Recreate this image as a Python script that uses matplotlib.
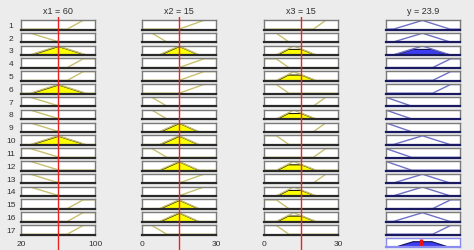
import numpy as np
import matplotlib
matplotlib.use("Agg")
from matplotlib import pyplot as plt
from matplotlib import transforms

# input / output values shown in the rule viewer
x1_val = 60
x2_val = 15
x3_val = 15
y_val = 23.9

# variable ranges
x1_range = [20, 100]
x2_range = [0, 30]
x3_range = [0, 30]
y_range = [0, 50]

# membership functions as trapezoids [a, b, c, d]  (low, medium, high)
x1_mfs = [[20, 20, 30, 61], [30, 60, 60, 90], [70, 87, 100, 100]]
x2_mfs = [[0, 0, 4, 10], [7, 15, 15, 23], [15, 25, 30, 30]]
x3_mfs = [[0, 0, 5, 10], [5, 12, 12, 21], [20, 25, 30, 30]]
y_mfs = [[0, 0, 0, 17], [5, 24.5, 24.5, 43], [31.5, 43.5, 50, 50]]

# rule base: 1 = low, 2 = medium, 3 = high
rule_x1 = [3, 1, 2, 3, 3, 2, 1, 1, 1, 2, 1, 1, 1, 1, 3, 3, 3]
rule_x2 = [3, 1, 2, 3, 3, 3, 1, 1, 2, 2, 1, 2, 3, 3, 2, 2, 1]
rule_x3 = [3, 1, 2, 1, 2, 1, 3, 2, 3, 1, 3, 2, 3, 2, 1, 2, 1]
rule_y = [2, 2, 2, 3, 3, 3, 1, 1, 1, 2, 1, 1, 2, 2, 3, 2, 3]

W, H = 474, 251
BG = '#ececec'


def trapmf(x, p):
    a, b, c, d = p
    x = np.asarray(x, dtype=float)
    left = np.where(x >= b, 1.0, (x - a) / (b - a) if b > a else 1.0)
    right = np.where(x <= c, 1.0, (d - x) / (d - c) if d > c else 1.0)
    return np.clip(np.minimum(left, right), 0, 1)


def px_axes(fig, left, top, width, height):
    # position in pixels (from top-left) -> figure fraction
    return fig.add_axes([left / W, 1 - (top + height) / H, width / W, height / H])


def style_box(ax, rng, edge='#7a7a7a', bottom='#2a2a2a'):
    ax.set_xlim(rng)
    ax.set_ylim(-0.04, 1.04)
    ax.set_xticks([])
    ax.set_yticks([])
    ax.set_facecolor('white')
    for s in ['top', 'left', 'right']:
        ax.spines[s].set_color(edge)
        ax.spines[s].set_linewidth(1.0)
    ax.spines['bottom'].set_color(bottom)
    ax.spines['bottom'].set_linewidth(1.6)


fig = plt.figure(figsize=(W / 100, H / 100), dpi=100)
fig.patch.set_facecolor(BG)

col_left = [21, 142, 264, 386]
col_w = 74
row_top0 = 21
row_pitch = 12.82
row_h = 9.5

inputs = [(x1_val, x1_range, x1_mfs, rule_x1, 'x1'),
          (x2_val, x2_range, x2_mfs, rule_x2, 'x2'),
          (x3_val, x3_range, x3_mfs, rule_x3, 'x3')]

n_rules = len(rule_y)
strength = np.ones(n_rules)
for val, rng, mfs, rule, name in inputs:
    mu = np.array([float(trapmf(val, mfs[k - 1])) for k in rule])
    strength = np.minimum(strength, mu)

txt_col = '#303030'

# input columns
for c, (val, rng, mfs, rule, name) in enumerate(inputs):
    xs = np.linspace(rng[0], rng[1], 600)
    mu_in = trapmf(val, [0, 0, 0, 0])  # placeholder, overwritten per rule
    for i, k in enumerate(rule):
        ax = px_axes(fig, col_left[c], row_top0 + i * row_pitch, col_w, row_h)
        style_box(ax, rng)
        mf = trapmf(xs, mfs[k - 1])
        level = float(trapmf(val, mfs[k - 1]))
        ax.plot(xs, mf, color='#c8c070', lw=1.0)
        if level > 0:
            ax.fill_between(xs, 0, np.minimum(mf, level), facecolor='#ffff00',
                            edgecolor='#202000', lw=0.8)
        if c == 0:
            ax.text(-0.135, 0.45, str(i + 1), transform=ax.transAxes, ha='center',
                    va='center', fontsize=6, color=txt_col, family='Liberation Sans')
        if i == 0:
            ax.set_title(f'{name} = {val:g}', fontsize=6.5, color=txt_col, pad=5,
                         family='Liberation Sans')
    # tick labels under the column
    tax = px_axes(fig, col_left[c], row_top0 + n_rules * row_pitch, col_w, row_h)
    tax.set_xlim(rng)
    tax.set_ylim(0, 1)
    tax.axis('off')
    tr = transforms.blended_transform_factory(tax.transData, tax.transAxes)
    for v in rng:
        tax.text(v, 0.45, f'{v:g}', transform=tr, ha='center', va='center',
                 fontsize=6, color=txt_col, family='Liberation Sans')
    # red line through the column
    oax = px_axes(fig, col_left[c], 18, col_w, H - 18)
    oax.set_xlim(rng)
    oax.set_ylim(0, 1)
    oax.axis('off')
    oax.patch.set_alpha(0)
    oax.axvline(val, color='#ee2020', lw=1.0)

# output column
ys = np.linspace(y_range[0], y_range[1], 600)
agg = np.zeros_like(ys)
for i, k in enumerate(rule_y):
    ax = px_axes(fig, col_left[3], row_top0 + i * row_pitch, col_w, row_h)
    style_box(ax, y_range, bottom='#1a1a60')
    mf = trapmf(ys, y_mfs[k - 1])
    ax.plot(ys, mf, color='#7070c8', lw=1.0)
    clipped = np.minimum(mf, strength[i])
    agg = np.maximum(agg, clipped)
    if strength[i] > 0:
        ax.fill_between(ys, 0, clipped, facecolor='#3c3cf0', edgecolor='#101050', lw=0.8)
    if i == 0:
        ax.set_title(f'y = {y_val:g}', fontsize=6.5, color=txt_col, pad=5,
                     family='Liberation Sans')

ax = px_axes(fig, col_left[3], row_top0 + n_rules * row_pitch, col_w, row_h)
style_box(ax, y_range, edge='#8c8cf0', bottom='#8c8cf0')
ax.fill_between(ys, 0, agg, facecolor='#3c3cf0', edgecolor='#101050', lw=0.8)
ax.plot([y_val, y_val], [0, 0.95], color='#ee1010', lw=2.5, solid_capstyle='butt')

fig.savefig('out.png', dpi=100, facecolor=BG)
